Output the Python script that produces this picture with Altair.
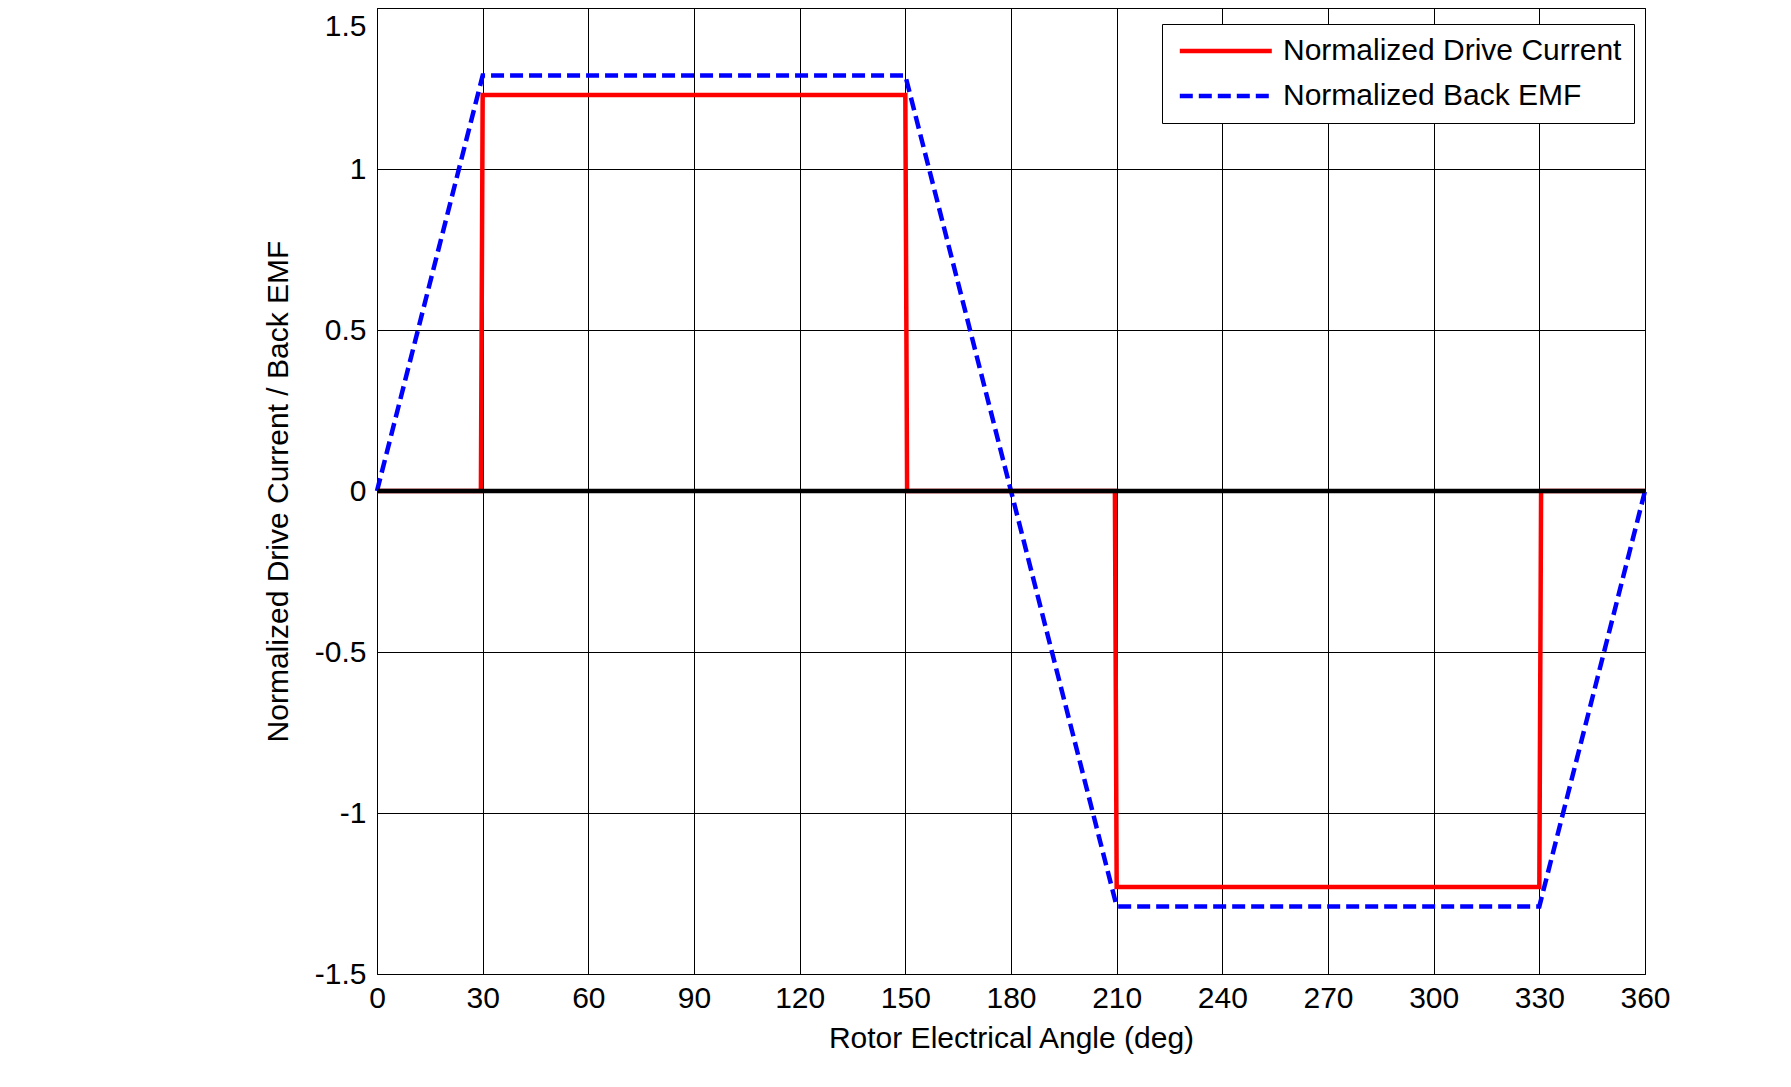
import altair as alt
import pandas as pd

# ---- data ----
current_x = [0, 29.5, 30, 150, 150.5, 209.5, 210, 330, 330.5, 360]
current_y = [0, 0, 1.23, 1.23, 0, 0, -1.23, -1.23, 0, 0]

emf_x = [0, 30, 150, 210, 330, 360]
emf_y = [0, 1.29, 1.29, -1.29, -1.29, 0]

zero_x = [0, 360]
zero_y = [0, 0]

series_names = ["Normalized Drive Current", "Normalized Back EMF"]
series_colors = ["#ff0000", "#0000ff"]
series_dash = [[1, 0], [13, 6]]

x_ticks = list(range(0, 361, 30))
y_ticks = [-1.5, -1, -0.5, 0, 0.5, 1, 1.5]

FONT = "Liberation Sans"

rows = []
for i, (x, y) in enumerate(zip(current_x, current_y)):
    rows.append({"angle": x, "value": y, "series": series_names[0], "idx": i})
for i, (x, y) in enumerate(zip(emf_x, emf_y)):
    rows.append({"angle": x, "value": y, "series": series_names[1], "idx": i})
df = pd.DataFrame(rows)
zero_df = pd.DataFrame({"angle": zero_x, "value": zero_y})

x_enc = alt.X(
    "angle:Q",
    scale=alt.Scale(domain=[0, 360], nice=False, zero=False),
    axis=alt.Axis(
        values=x_ticks,
        title="Rotor Electrical Angle (deg)",
        grid=True,
        ticks=False,
        tickSize=0,
        domain=False,
        labelFlush=False,
        labelPadding=9,
        titlePadding=10,
    ),
)
y_enc = alt.Y(
    "value:Q",
    scale=alt.Scale(domain=[-1.5, 1.5], nice=False, zero=False),
    axis=alt.Axis(
        values=y_ticks,
        title="Normalized Drive Current / Back EMF",
        grid=True,
        ticks=False,
        tickSize=0,
        domain=False,
        labelFlush=False,
        labelPadding=11,
        titlePadding=21,
        labelExpr="'' + datum.value",
        labelBaseline={
            "condition": {"test": "datum.value == 1.5", "value": "top"},
            "value": "middle",
        },
        labelOffset={
            "condition": {"test": "datum.value == 1.5", "value": 3},
            "value": 0,
        },
    ),
)

legend = alt.Legend(
    title=None,
    orient="none",
    legendX=785,
    legendY=16,
    fillColor="white",
    strokeColor="black",
    padding=12,
    rowPadding=15,
    symbolType="M-0.8,0H7.2",
    symbolSize=529,
    symbolStrokeWidth=4.5,
    labelFontSize=30,
    labelFont=FONT,
    labelColor="black",
    labelOffset=79,
    labelLimit=600,
)

lines = alt.Chart(df).mark_line(strokeWidth=4.5).encode(
    x=x_enc,
    y=y_enc,
    color=alt.Color(
        "series:N",
        scale=alt.Scale(domain=series_names, range=series_colors),
        legend=legend,
    ),
    strokeDash=alt.StrokeDash(
        "series:N",
        scale=alt.Scale(domain=series_names, range=series_dash),
        legend=legend,
    ),
    order=alt.Order("idx:Q"),
)

zero_line = alt.Chart(zero_df).mark_line(color="black", strokeWidth=4.5).encode(
    x="angle:Q",
    y="value:Q",
)

chart = (
    alt.layer(lines, zero_line)
    .properties(
        width=1268,
        height=966,
        autosize=alt.AutoSizeParams(type="none"),
        padding={"left": 369, "top": 0, "right": 130, "bottom": 100},
        background="white",
    )
    .configure_view(stroke="black", strokeWidth=1)
    .configure_axis(
        labelFont=FONT,
        titleFont=FONT,
        labelFontSize=30,
        titleFontSize=30,
        labelColor="black",
        titleColor="black",
        titleFontWeight="normal",
        gridColor="black",
        gridOpacity=1,
        gridWidth=1,
    )
)

chart.save("out.html", embed_options={"renderer": "svg", "actions": False})
